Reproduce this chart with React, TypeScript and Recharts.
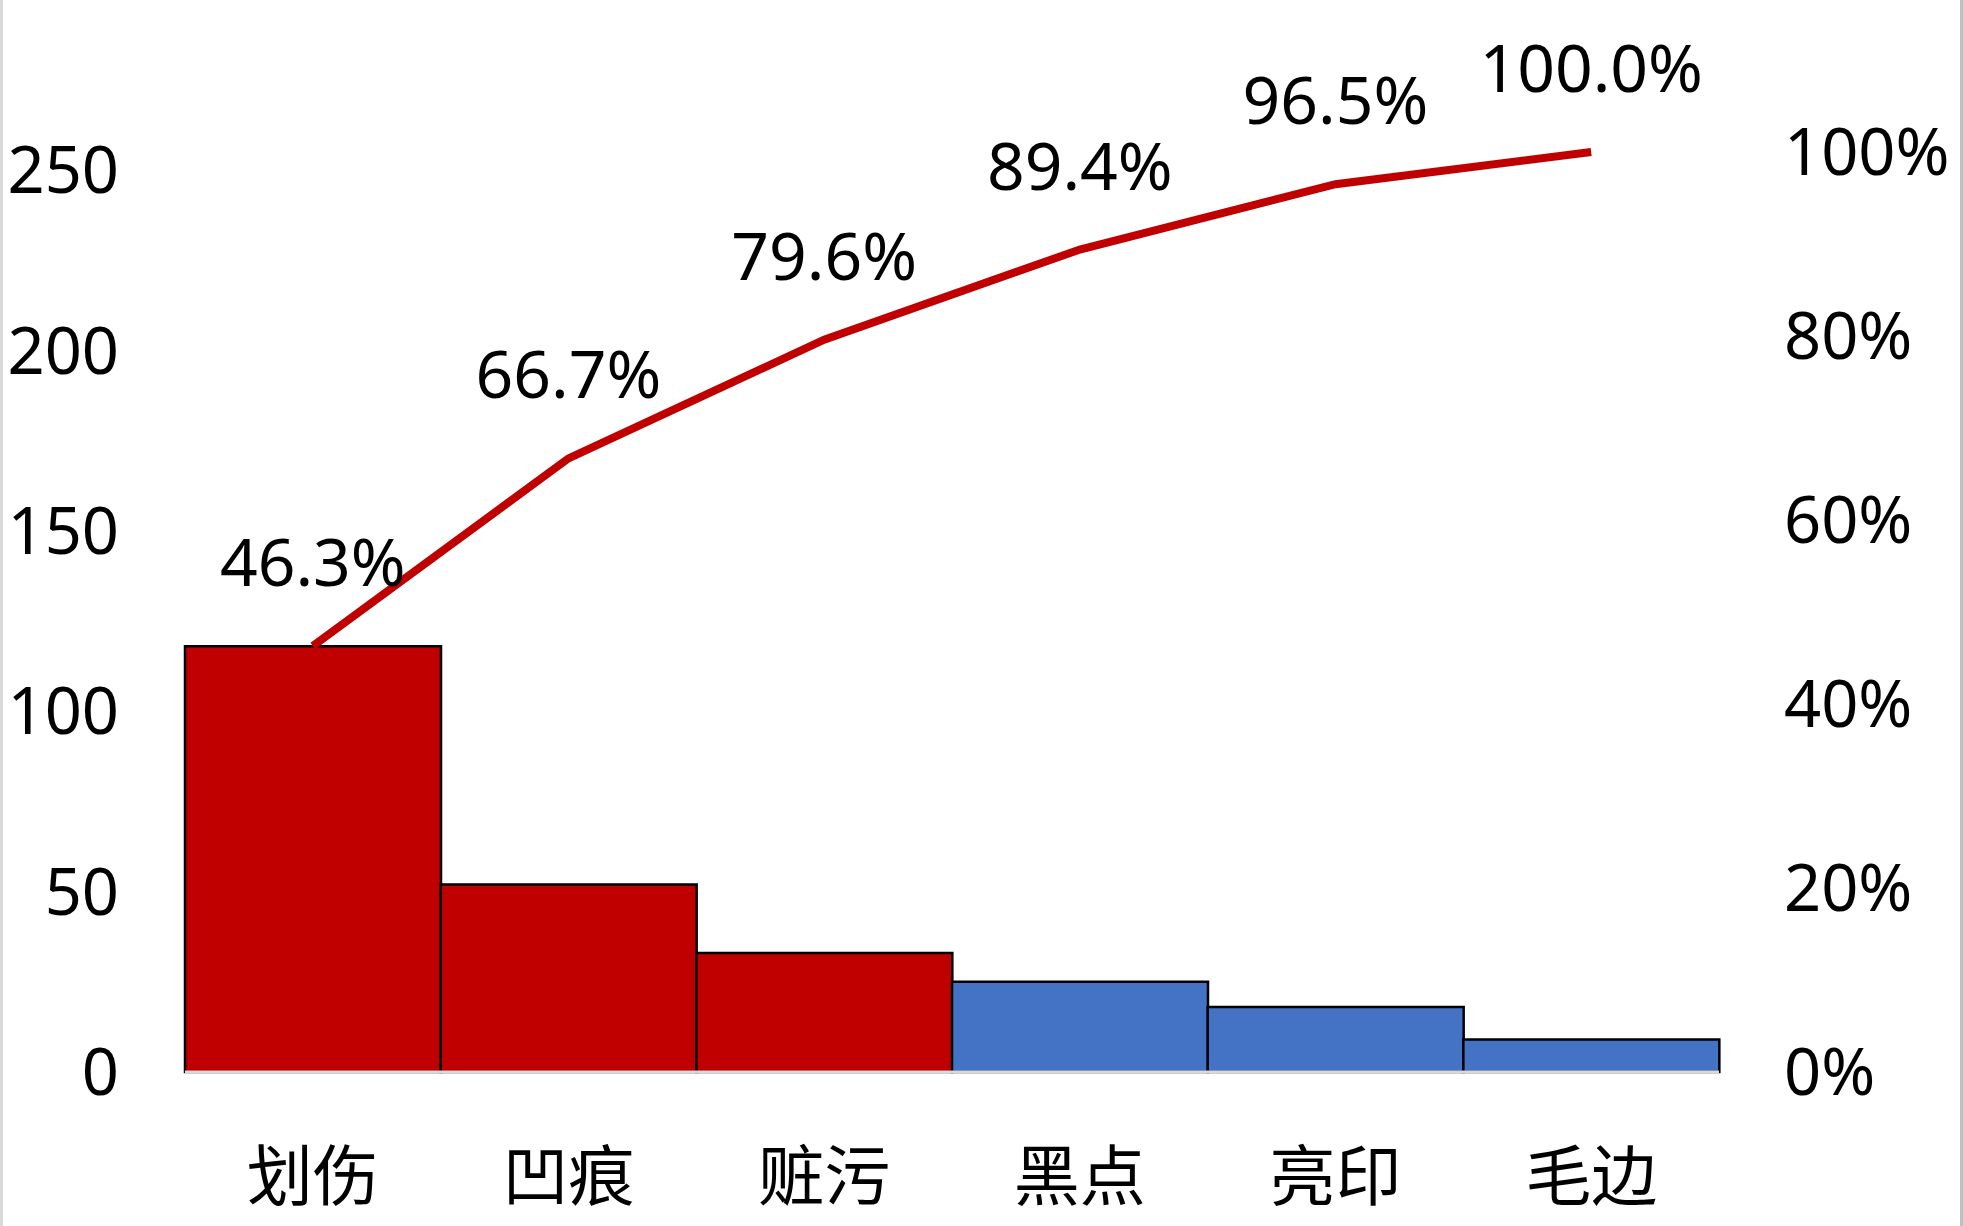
import React from "react";
import {
  Bar,
  Cell,
  ComposedChart,
  LabelList,
  Line,
  XAxis,
  YAxis,
} from "recharts";

// defect categories and counts (pareto)
const categories = ["划伤", "凹痕", "赃污", "黑点", "亮印", "毛边"];
const counts = [118, 52, 33, 25, 18, 9];
const cumulative = [0.463, 0.667, 0.796, 0.894, 0.965, 1.0];
const barColors = ["#C00000", "#C00000", "#C00000", "#4472C4", "#4472C4", "#4472C4"];
const countTicks = [0, 50, 100, 150, 200, 250];
const pctTicks = [0, 0.2, 0.4, 0.6, 0.8, 1.0];

const chartData = categories.map((name, i) => ({
  name,
  count: counts[i],
  cum: cumulative[i],
}));

const FONT = '"Noto Sans", "Noto Sans CJK SC", sans-serif';
const tickStyle = { fill: "#000", fontSize: 65, fontFamily: FONT };

const App: React.FC = () => {
  return (
    <div
      style={{
        position: "absolute",
        left: 0,
        top: 0,
        width: 1963,
        height: 1226,
        background: "#fff",
        boxSizing: "border-box",
        borderLeft: "3px solid #D9D9D9",
        borderRight: "3px solid #BFBFBF",
      }}
    >
      <ComposedChart
        width={1957}
        height={1226}
        data={chartData}
        barCategoryGap={0}
        margin={{ top: 152, right: 3, bottom: 0, left: -6 }}
      >
        <XAxis
          dataKey="name"
          height={154}
          axisLine={{ stroke: "#D9D9D9", strokeWidth: 3 }}
          tickLine={false}
          tickSize={0}
          tickMargin={81}
          tick={{ ...tickStyle, fontSize: 66 }}
          interval={0}
        />
        <YAxis
          yAxisId="left"
          orientation="left"
          width={188}
          domain={[0, 255]}
          ticks={countTicks}
          axisLine={false}
          tickLine={false}
          tickSize={0}
          tickMargin={66}
          tick={tickStyle}
        />
        <YAxis
          yAxisId="right"
          orientation="right"
          width={238}
          domain={[0, 1]}
          ticks={pctTicks}
          axisLine={false}
          tickLine={false}
          tickSize={0}
          tickMargin={65}
          tick={{ ...tickStyle, textAnchor: "start" }}
          tickFormatter={(v: number) => `${Math.round(v * 100)}%`}
        />
        <Bar
          yAxisId="left"
          dataKey="count"
          stroke="#000"
          strokeWidth={2.5}
          isAnimationActive={false}
        >
          {chartData.map((d, i) => (
            <Cell key={d.name} fill={barColors[i]} />
          ))}
        </Bar>
        <Line
          yAxisId="right"
          dataKey="cum"
          type="linear"
          stroke="#C00000"
          strokeWidth={8}
          dot={false}
          activeDot={false}
          isAnimationActive={false}
        >
          <LabelList
            dataKey="cum"
            position="top"
            offset={60}
            fill="#000"
            fontSize={66}
            fontFamily={FONT}
            formatter={(v: number) => `${(v * 100).toFixed(1)}%`}
          />
        </Line>
      </ComposedChart>
    </div>
  );
};

export default App;
